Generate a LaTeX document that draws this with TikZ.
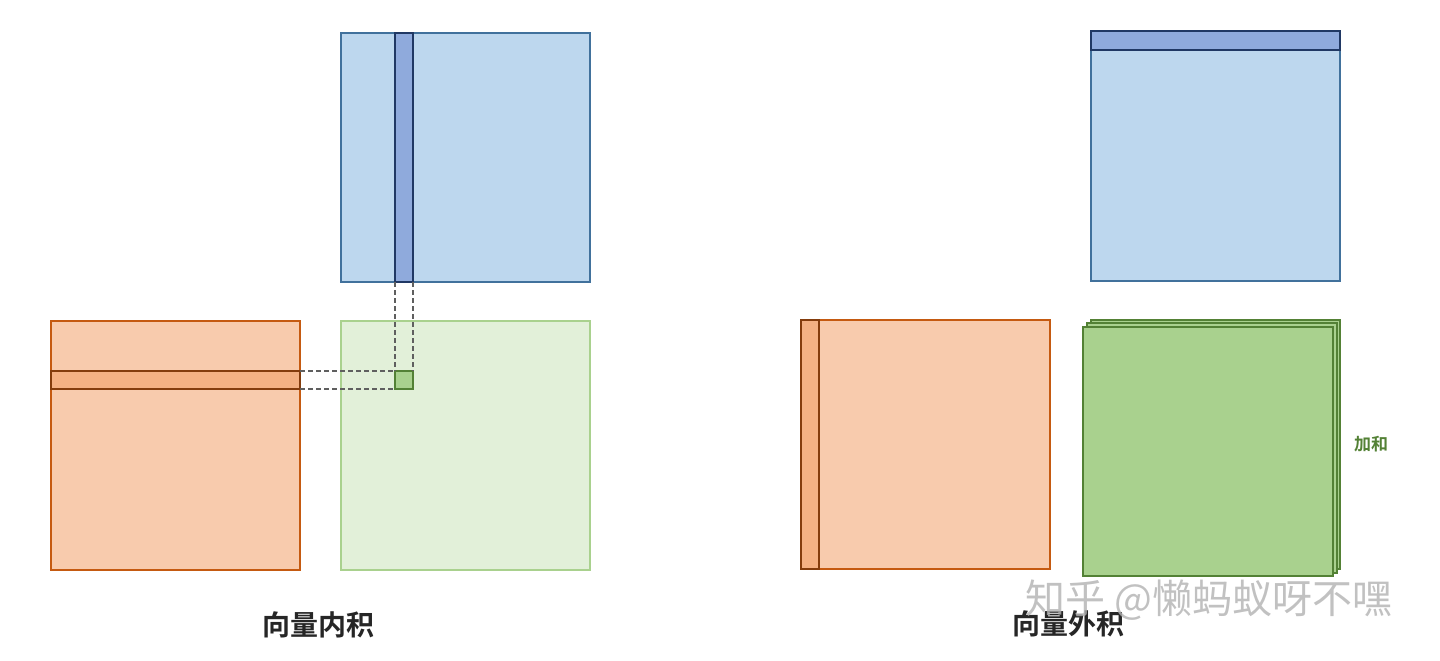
\documentclass[tikz,border=0pt]{standalone}
\usepackage{fontspec}
\newfontfamily\cjk{Noto Sans CJK SC}
\newfontfamily\cjkb{Noto Sans CJK SC Bold}
\definecolor{bfill}{HTML}{BDD7EE}
\definecolor{bline}{HTML}{41719C}
\definecolor{bsfill}{HTML}{8FAADC}
\definecolor{bsline}{HTML}{203864}
\definecolor{ofill}{HTML}{F8CBAD}
\definecolor{oline}{HTML}{C55A11}
\definecolor{osfill}{HTML}{F4B183}
\definecolor{osline}{HTML}{843C0C}
\definecolor{glfill}{HTML}{E2F0D9}
\definecolor{glline}{HTML}{A9D18E}
\definecolor{gfill}{HTML}{A9D18E}
\definecolor{gline}{HTML}{538135}
\definecolor{dline}{HTML}{5F5F5F}
\tikzset{
  box/.style={rectangle,inner sep=0pt,outer sep=0pt,line width=1.3pt},
  bluebox/.style={box,fill=bfill,draw=bline},
  bluestrip/.style={box,fill=bsfill,draw=bsline},
  orbox/.style={box,fill=ofill,draw=oline},
  orstrip/.style={box,fill=osfill,draw=osline},
  glbox/.style={box,fill=glfill,draw=glline},
  gbox/.style={box,fill=gfill,draw=gline},
  guide/.style={draw=dline,line width=1.5pt,dash pattern=on 5pt off 3pt},
  title/.style={font=\cjkb\fontsize{28}{30}\selectfont,text=black!85},
}
\begin{document}
\begin{tikzpicture}[x=1pt,y=-1pt]
\useasboundingbox (0,0) rectangle (1440,661);
% ---- inner product ----
\node[bluebox,minimum width=249pt,minimum height=249pt] (B1) at (465.5,157.5) {};
\node[bluestrip,minimum width=18pt,minimum height=249pt] (Bcol) at (404,157.5) {};
\node[orbox,minimum width=249pt,minimum height=249pt] (O1) at (175.5,445.5) {};
\node[orstrip,minimum width=249pt,minimum height=18pt] (Orow) at (175.5,380) {};
\node[glbox,minimum width=249pt,minimum height=249pt] (G1) at (465.5,445.5) {};
\node[gbox,minimum width=18pt,minimum height=18pt] (dot) at (404,380) {};
\draw[guide] (Bcol.south west) -- (dot.north west);
\draw[guide] (Bcol.south east) -- (dot.north east);
\draw[guide] (Orow.north east) -- (dot.north west);
\draw[guide] (Orow.south east) -- (dot.south west);
\node[title] (t1) at (318,625) {向量内积};
% ---- outer product ----
\node[bluebox,minimum width=249pt,minimum height=250pt] (B2) at (1215.5,156) {};
\node[bluestrip,minimum width=249pt,minimum height=19pt] (Brow) at (1215.5,40.5) {};
\node[orbox,minimum width=249pt,minimum height=249pt] (O2) at (925.5,444.5) {};
\node[orstrip,minimum width=18pt,minimum height=249pt] (Ocol) at (810,444.5) {};
\node[gbox,minimum width=249pt,minimum height=249pt] (G3) at (1215.5,444.5) {};
\node[gbox,minimum width=250pt,minimum height=250pt] (G2) at (1212,448) {};
\node[gbox,minimum width=250pt,minimum height=249pt] (G1b) at (1208,451.5) {};
\node[font=\cjkb\fontsize{17}{19}\selectfont,text=gline] (sum) at (1371,444) {加和};
\node[title] (t2) at (1068,624) {向量外积};
% watermark
\node[font=\cjk\fontsize{40}{42}\selectfont,text=black!30,opacity=0.8] (wm) at (1209,600) {知乎 @懒蚂蚁呀不嘿};
\end{tikzpicture}
\end{document}
